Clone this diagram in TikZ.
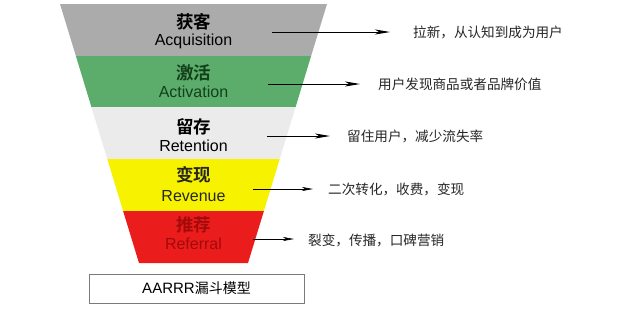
\documentclass[tikz,border=0pt]{standalone}
\usepackage{fontspec}
\setmainfont{Liberation Sans}
\newfontfamily\cjk{Noto Sans CJK SC}
\newfontfamily\cjkb{Noto Sans CJK SC Bold}
\usetikzlibrary{arrows.meta}
\definecolor{bandgray}{HTML}{ABABAB}
\definecolor{bandgreen}{HTML}{5CAD6C}
\definecolor{bandlight}{HTML}{EBEBEB}
\definecolor{bandyellow}{HTML}{F6F200}
\definecolor{bandred}{HTML}{EB1C1C}
\definecolor{txtgreen}{HTML}{12401A}
\definecolor{txtred}{HTML}{A30A0A}
\definecolor{boxline}{HTML}{7A7A7A}
\begin{document}
\begin{tikzpicture}[x=1pt,y=-1pt,
  cntitle/.style={font=\cjkb\fontsize{17.5}{18}\selectfont,inner sep=0pt},
  entitle/.style={font=\fontsize{16}{17}\selectfont,inner sep=0pt},
  desc/.style={font=\cjk\fontsize{13.6}{14}\selectfont,anchor=west,inner sep=0pt,text=black!85},
  bigarrow/.style={line width=0.9pt,-{Stealth[length=15pt,width=5pt,inset=4pt]}},
  smallarrow/.style={line width=0.6pt,-{Stealth[length=11pt,width=4pt,inset=3pt]}},
]
\useasboundingbox[fill=white] (0,0) rectangle (640,308);
% funnel bands
\fill[bandgray]   (60,4)     -- (327,4)     -- (311.1,56)  -- (75.9,56)  -- cycle;
\fill[bandgreen]  (75.9,56)  -- (311.1,56)  -- (295.6,107) -- (91.4,107) -- cycle;
\fill[bandlight]  (91.4,107) -- (295.6,107) -- (279.7,159) -- (107.3,159) -- cycle;
\fill[bandyellow] (107.3,159)-- (279.7,159) -- (263.9,211) -- (123.1,211) -- cycle;
\fill[bandred]    (123.1,211)-- (263.9,211) -- (248,263)   -- (139,263)  -- cycle;
% band texts
\node[cntitle] (c1) at (193.5,22) {获客};
\node[entitle] (e1) at (193.5,41) {Acquisition};
\node[cntitle,text=txtgreen] (c2) at (193.5,73) {激活};
\node[entitle,text=txtgreen] (e2) at (193.5,91.5) {Activation};
\node[cntitle] (c3) at (193.5,127) {留存};
\node[entitle] (e3) at (193.5,146) {Retention};
\node[cntitle,text=black!85] (c4) at (193.5,175) {变现};
\node[entitle,text=black!85] (e4) at (193.5,196) {Revenue};
\node[cntitle,text=txtred] (c5) at (193.5,225) {推荐};
\node[entitle,text=txtred] (e5) at (193.5,244) {Referral};
% descriptions
\node[desc] (d1) at (413,32)  {拉新，从认知到成为用户};
\node[desc] (d2) at (378,84)  {用户发现商品或者品牌价值};
\node[desc] (d3) at (347,136) {留住用户，减少流失率};
\node[desc] (d4) at (328,189) {二次转化，收费，变现};
\node[desc] (d5) at (308,240) {裂变，传播，口碑营销};
% arrows
\coordinate (s1) at (272,32);  \coordinate (t1) at (390,32);
\coordinate (s2) at (268,84);  \coordinate (t2) at (360,84);
\coordinate (s3) at (267,136); \coordinate (t3) at (330,136);
\coordinate (s4) at (253,189); \coordinate (t4) at (313,189);
\coordinate (s5) at (253,239); \coordinate (t5) at (294,239);
\draw[bigarrow] (s1) -- (t1);
\draw[bigarrow] (s2) -- (t2);
\draw[bigarrow] (s3) -- (t3);
\draw[smallarrow] (s4) -- (t4);
\draw[smallarrow] (s5) -- (t5);
% model box
\node[draw=boxline,line width=0.8pt,minimum width=215pt,minimum height=29pt,inner sep=0pt] (box) at (196.5,288.5)
  {\fontsize{15}{16}\selectfont AARRR{\cjk\fontsize{14}{16}\selectfont 漏斗模型}};
\end{tikzpicture}
\end{document}
